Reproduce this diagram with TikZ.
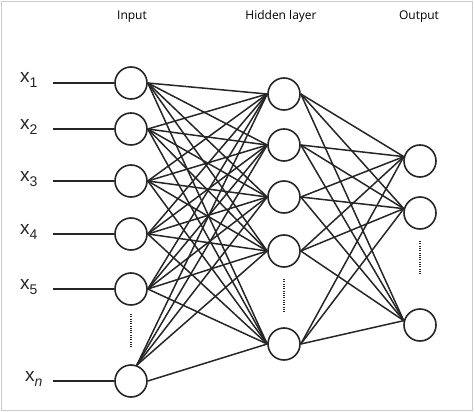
\documentclass[tikz,border=0pt]{standalone}
\usepackage{fontspec}
\newfontfamily\titlefont{Open Sans}
\newfontfamily\labelfont{Liberation Sans}
\newcommand{\xlab}[1]{{\labelfont\fontsize{19}{19}\selectfont x\raisebox{-5pt}{\fontsize{14}{14}\selectfont #1}}}

\begin{document}
\begin{tikzpicture}[x=1pt, y=-1pt,
    neuron/.style={circle, draw=black!85, fill=white, line width=1.6pt, minimum size=32pt, inner sep=0pt},
    title/.style={font=\titlefont\fontsize{12}{12}\selectfont, anchor=base, inner sep=0pt},
    xlabel/.style={anchor=base west, inner sep=0pt, text=black!85},
    dots/.style={line width=1.4pt, dash pattern=on 1pt off 1.3pt, black!85},
    link/.style={line width=1.5pt, black!85}]

    \useasboundingbox (0,0) rectangle (474,412);
    \draw[gray!40, line width=0.6pt] (1,1) rectangle (472,410);

    % titles
    \node[title] at (132, 20) (tin) {Input};
    \node[title] at (281, 20) (thid) {Hidden layer};
    \node[title] at (419, 20) (tout) {Output};

    % input layer
    \node[neuron] at (131, 83) (I1) {};
    \node[neuron] at (131, 129) (I2) {};
    \node[neuron] at (131, 181) (I3) {};
    \node[neuron] at (131, 234) (I4) {};
    \node[neuron] at (131, 289) (I5) {};
    \node[neuron] at (131, 381) (In) {};

    % hidden layer
    \node[neuron] at (284, 94) (H1) {};
    \node[neuron] at (284, 145) (H2) {};
    \node[neuron] at (284, 197) (H3) {};
    \node[neuron] at (284, 251) (H4) {};
    \node[neuron] at (284, 344) (H5) {};

    % output layer
    \node[neuron] at (420, 161) (O1) {};
    \node[neuron] at (420, 213) (O2) {};
    \node[neuron] at (420, 325) (O3) {};

    % inputs
    \node[xlabel] at (20, 83) (x1) {\xlab{1}};
    \node[xlabel] at (20, 129) (x2) {\xlab{2}};
    \node[xlabel] at (20, 181) (x3) {\xlab{3}};
    \node[xlabel] at (20, 234) (x4) {\xlab{4}};
    \node[xlabel] at (20, 289) (x5) {\xlab{5}};
    \node[xlabel] at (25, 381) (xn) {\xlab{\textit{n}}};

    \coordinate (s1) at (53, 83);
    \coordinate (s2) at (53, 129);
    \coordinate (s3) at (53, 181);
    \coordinate (s4) at (53, 234);
    \coordinate (s5) at (53, 289);
    \coordinate (sn) at (53, 381);
    \foreach \i in {1,2,3,4,5,n}
        \draw[link] (s\i) -- (I\i);

    % dots
    \coordinate (di1) at (131, 314);
    \coordinate (di2) at (131, 348);
    \coordinate (dh1) at (284, 279);
    \coordinate (dh2) at (284, 313);
    \coordinate (do1) at (420, 241);
    \coordinate (do2) at (420, 274);
    \draw[dots] (di1) -- (di2);
    \draw[dots] (dh1) -- (dh2);
    \draw[dots] (do1) -- (do2);

    % connections
    \foreach \i in {1,...,5}
        \foreach \j in {1,...,5}
            \draw[link] (I\i.east) -- (H\j.west);
    \foreach \j in {1,...,4}
        \draw[link] (In.70) -- (H\j.west);
    \draw[link] (In.east) -- (H5.west);
    \foreach \j in {1,...,5}
        \foreach \k in {1,2,3}
            \draw[link] (H\j.east) -- (O\k.165);

\end{tikzpicture}
\end{document}
